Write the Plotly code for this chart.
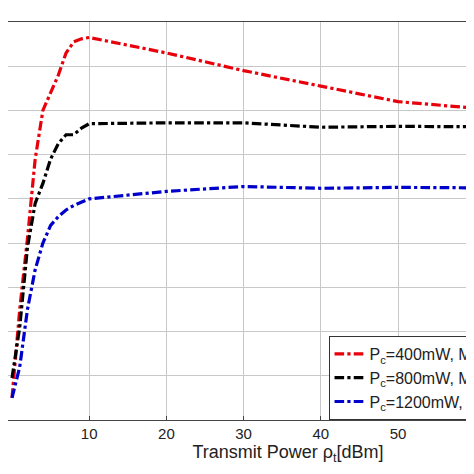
import plotly.graph_objects as go

# transmit power (dBm)
power = [0, 1, 2, 3, 4, 5, 6, 7, 8, 9, 10, 20, 30, 40, 50, 60, 62]
# (arbitrary y units, one unit = one grid step)
red_400 = [0.5, 2.5, 4.1, 5.9, 7.0, 7.4, 7.8, 8.3, 8.55, 8.62, 8.65, 8.3, 7.9, 7.55, 7.2, 7.05, 7.02]
black_800 = [0.95, 2.1, 3.9, 4.9, 5.35, 5.9, 6.25, 6.45, 6.45, 6.6, 6.7, 6.72, 6.72, 6.62, 6.64, 6.63, 6.63]
blue_1200 = [0.5, 1.2, 2.5, 3.4, 4.0, 4.4, 4.6, 4.75, 4.85, 4.92, 5.0, 5.17, 5.28, 5.24, 5.26, 5.25, 5.25]

names = ["P<sub>c</sub>=400mW, M=2", "P<sub>c</sub>=800mW, M=2", "P<sub>c</sub>=1200mW, M=2"]
colors = ["#e8000b", "#000000", "#0000cc"]

W = 560
x_lo = -0.52
x_hi = x_lo + W / 7.72

fig = go.Figure()
for ys, nm, c in zip([red_400, black_800, blue_1200], names, colors):
    fig.add_trace(go.Scatter(x=power, y=ys, mode="lines", name=nm,
                             line=dict(color=c, width=3.2, dash="dashdot")))

fig.update_layout(
    width=W, height=474,
    margin=dict(l=0, r=0, t=14, b=62),
    paper_bgcolor="white", plot_bgcolor="white",
    font=dict(family="Liberation Sans, Arial", size=15, color="#222"),
    showlegend=True,
    legend=dict(x=(41 - x_lo) / (x_hi - x_lo), y=0.0, xanchor="left", yanchor="bottom",
                bordercolor="#333", borderwidth=1, bgcolor="white",
                font=dict(size=16), tracegroupgap=0),
)
fig.update_xaxes(range=[x_lo, x_hi], tickvals=[10, 20, 30, 40, 50, 60], showgrid=True,
                 gridcolor="#c8c8c8", showline=True, linecolor="#444", mirror=True,
                 ticks="inside", ticklen=4, zeroline=False,
                 title=dict(text="Transmit Power ρ<sub>t</sub>[dBm]", standoff=4))
fig.update_yaxes(range=[0, 9], dtick=1, showticklabels=False, showgrid=True,
                 gridcolor="#c8c8c8", showline=True, linecolor="#444", mirror=True,
                 zeroline=False)

fig.write_html("out.html")
